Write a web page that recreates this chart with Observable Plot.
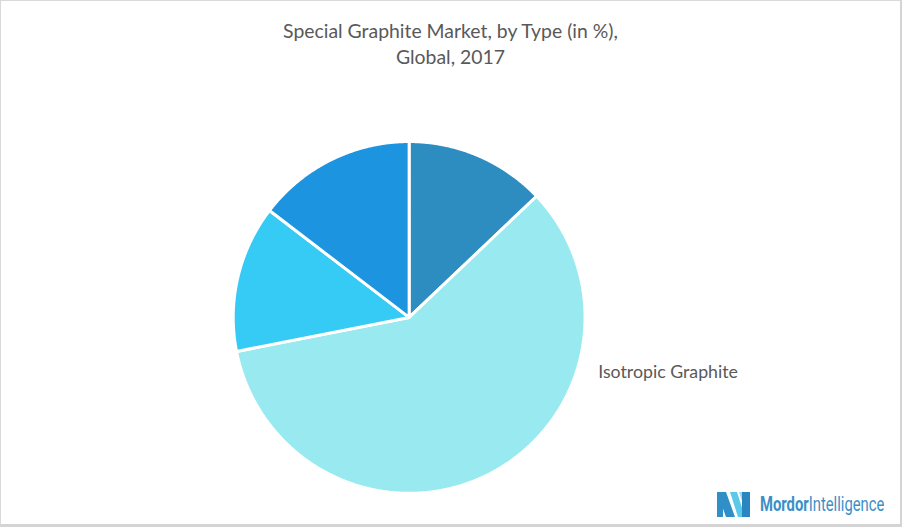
<!DOCTYPE html>
<html>
<head>
<meta charset="utf-8">
<script src="https://cdn.jsdelivr.net/npm/d3@7"></script>
<script src="https://cdn.jsdelivr.net/npm/@observablehq/plot@0.6"></script>
<style>
  html, body { margin: 0; padding: 0; background: #fff; }
  #frame { position: relative; width: 902px; height: 527px; box-sizing: border-box;
           border: 1px solid #d9d9d9; border-right: 2px solid #d4d4d4; border-bottom: 3px solid #d4d4d4; overflow: hidden; }
  #title { position: absolute; left: 0; top: 17px; width: 100%; text-align: center;
           font-family: Lato, "Open Sans", sans-serif; font-size: 19.4px; line-height: 26px; color: #595959; }
  #chart { position: absolute; left: 0; top: 0; }
  #logo { position: absolute; left: 716px; top: 488px; display: flex; align-items: center; }
  #logo span { display: inline-block; transform: scaleX(0.74); transform-origin: left center;
               font-family: Roboto, "Noto Sans", sans-serif; font-size: 20px; color: #3b8fc6; white-space: nowrap; }
</style>
</head>
<body>
<div id="frame">
  <div id="chart"></div>
  <div id="title">Special Graphite Market, by Type (in %),<br>Global, 2017</div>
  <div id="logo">
    <svg width="38" height="30" viewBox="0 0 38 30">
      <polygon points="0,3 9,3 18,28 9,28" fill="#2f8fc6"/>
      <polygon points="0,3 6,3 6,28 0,28" fill="#2f8fc6"/>
      <polygon points="13,3 20,3 28,28 21,28" fill="#5cc9e8"/>
      <polygon points="25,3 33,3 33,28 25,28" fill="#2a86c0"/>
      <polygon points="22,3 25,3 25,12" fill="#8fdcef"/>
    </svg>
    <span style="margin-left:5px"><b style="font-weight:700">Mordor</b>Intelligence</span>
  </div>
</div>
<script>
// Data
const categories = ["Other Graphite A", "Isotropic Graphite", "Other Graphite B", "Other Graphite C"];
const shares = [12.9, 59.0, 13.5, 14.6];
const colors = ["#2e8dc0", "#98eaf0", "#35cbf5", "#1c94e0"];
const labeled = ["Isotropic Graphite"];

// Build slice polygons from d3.pie angles
const pie = d3.pie().sort(null).value(d => d)(shares);
const pts = [];
pie.forEach((s, i) => {
  const cat = categories[i];
  pts.push({cat, x: 0, y: 0});
  const steps = Math.max(2, Math.ceil((s.endAngle - s.startAngle) / 0.005));
  for (let k = 0; k <= steps; k++) {
    const a = s.startAngle + (s.endAngle - s.startAngle) * k / steps;
    pts.push({cat, x: Math.sin(a), y: Math.cos(a)});
  }
});

const labelData = categories.map((c, i) => ({cat: c, share: shares[i]})).filter(d => labeled.includes(d.cat));

const R = 176.5, cx = 409, cy = 317;
const chart = Plot.plot({
  width: 902,
  height: 527,
  margin: 0,
  x: {type: "linear", domain: [-1, 1], range: [cx - R, cx + R], axis: null},
  y: {type: "linear", domain: [-1, 1], range: [cy + R, cy - R], axis: null},
  color: {domain: categories, range: colors},
  marks: [
    Plot.line(pts, {x: "x", y: "y", z: "cat", fill: "cat", stroke: "white", strokeWidth: 3, curve: "linear-closed"}),
    Plot.text(labelData, {x: () => 1.075, y: () => -0.31, text: "cat", textAnchor: "start",
      fontSize: 17.8, fill: "#595959", fontFamily: "Lato, 'Open Sans', sans-serif"})
  ]
});
document.getElementById("chart").appendChild(chart);
</script>
</body>
</html>
